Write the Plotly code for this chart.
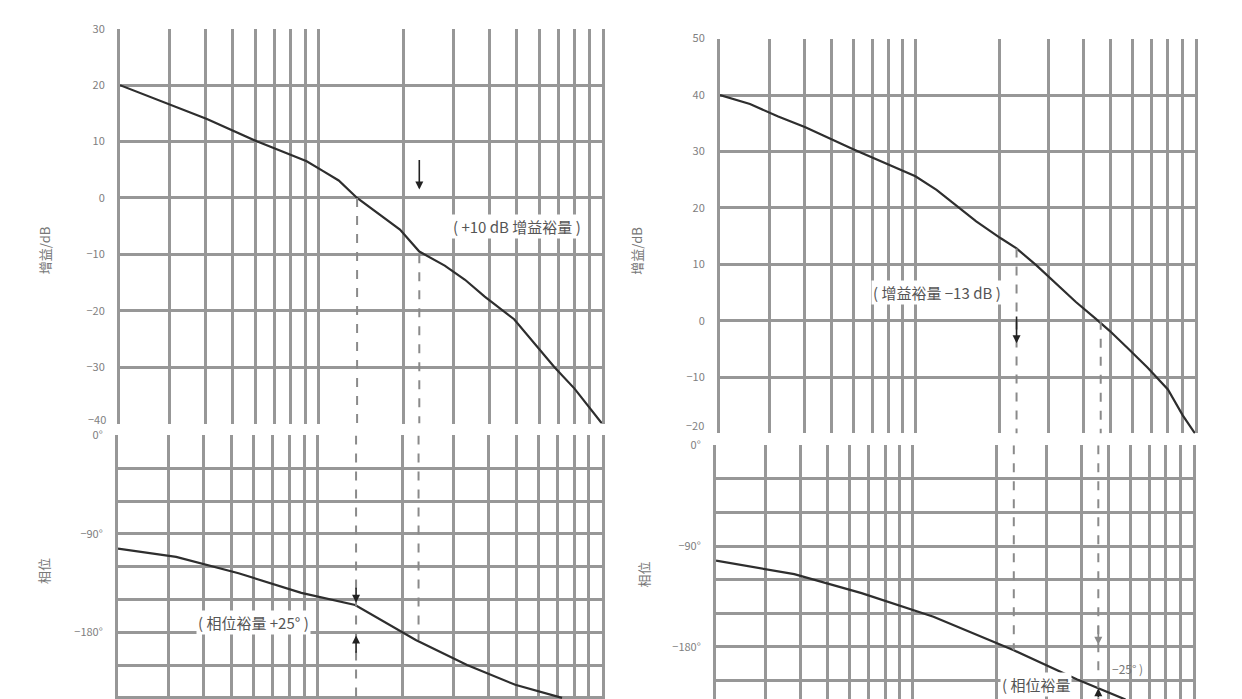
import math
import plotly.graph_objects as go

# ---------------- data ----------------
left_mag_freq = [2, 3.07, 4.05, 6.1, 9.1, 10.3, 11.8, 13.7, 15.8, 19.4, 22.7, 27.9, 32.9, 38.6, 49, 68, 80, 100]
left_mag_db = [20, 16.4, 14.0, 10, 6.5, 4.9, 3.1, 0, -2.3, -5.6, -9.5, -12, -14.5, -17.5, -21.5, -30, -33.8, -40]
left_phase_freq = [2, 3.2, 5.3, 8.8, 13.6, 22.2, 33.6, 49.6, 72.4]
left_phase_deg = [-103.5, -111, -126, -144, -155, -187, -210, -228, -240]

right_mag_freq = [2, 2.56, 3.23, 4.04, 5.99, 7.3, 8.6, 10, 11.9, 14, 16.5, 20.2, 23, 27.1, 32, 37.5, 44,
                  49.5, 57.5, 67.6, 80, 90.4, 100]
right_mag_db = [40, 38.4, 36.2, 34.3, 30.4, 28.6, 27.1, 25.6, 23.2, 20.4, 17.6, 14.6, 12.8, 9.8, 6.4, 3.3, 0.4,
                -1.8, -4.9, -8.3, -12.2, -16.8, -20]
right_phase_freq = [2, 3.8, 6.6, 11.9, 23, 38.7, 57.5]
right_phase_deg = [-103, -115, -132, -153, -183, -209, -227]

# crossover markers
left_gain_cross = 13.7
left_phase_cross = 22.7
right_phase_cross = 23
right_gain_cross = 46

grid_freqs = [2, 3, 4, 5, 6, 7, 8, 9, 10, 20, 30, 40, 50, 60, 70, 80, 90, 100]
left_db_ticks = [30, 20, 10, 0, -10, -20, -30, -40]
left_db_text = ["30", "20", "10", "0", "−10", "−20", "−30", ""]
right_db_ticks = [50, 40, 30, 20, 10, 0, -10, -20]
right_db_text = ["50", "40", "30", "20", "10", "0", "−10", ""]
phase_ticks = [0, -30, -60, -90, -120, -150, -180, -210, -240]
phase_text = ["0°", "", "", "−90°", "", "", "−180°", "", ""]

label_gain = "增益/dB"
label_phase = "相位"
txt_left_gm = "( +10 dB 增益裕量 )"
txt_left_pm = "( 相位裕量 +25° )"
txt_right_gm = "( 增益裕量 −13 dB )"
txt_right_pm = "( 相位裕量"
txt_right_pm_val = "−25° )"

# ---------------- layout geometry ----------------
W, H = 1242, 699
FONT = "Noto Sans CJK SC, Noto Sans, sans-serif"
GRID = "#979797"
CURVE = "#2e2e2e"
TICKC = "#808080"


def xd(a, b):
    return [a / W, b / W]


def yd(top, bottom):
    return [1 - bottom / H, 1 - top / H]


fig = go.Figure()

cw = 2.2
for fx, fy, xa, ya in [(left_mag_freq, left_mag_db, "x", "y"),
                       (left_phase_freq, left_phase_deg, "x2", "y2"),
                       (right_mag_freq, right_mag_db, "x3", "y3"),
                       (right_phase_freq, right_phase_deg, "x4", "y4")]:
    fig.add_trace(go.Scatter(x=fx, y=fy, xaxis=xa, yaxis=ya, mode="lines",
                             line=dict(color=CURVE, width=cw)))

dash = dict(color="#8a8a8a", width=2, dash="dash")
dashed = [
    (left_gain_cross, 0, -40, "x", "y"),
    (left_phase_cross, -10, -40, "x", "y"),
    (left_gain_cross, 0, -241, "x2", "y2"),
    (left_phase_cross, 0, -187, "x2", "y2"),
    (right_phase_cross, 12.8, -20, "x3", "y3"),
    (right_gain_cross, 0, -20, "x3", "y3"),
    (right_phase_cross, 0, -183, "x4", "y4"),
    (right_gain_cross, 0, -229, "x4", "y4"),
]
for f, y0, y1, xa, ya in dashed:
    fig.add_trace(go.Scatter(x=[f, f], y=[y0, y1], xaxis=xa, yaxis=ya, mode="lines", line=dash))

common_x = dict(type="log", tickvals=grid_freqs, showticklabels=False, showgrid=True,
                gridcolor=GRID, gridwidth=2.6, zeroline=False, showline=False, ticks="")
common_y = dict(showgrid=True, gridcolor=GRID, gridwidth=2.6, zeroline=False, ticks="",
                showline=True, mirror=True, linecolor=GRID, linewidth=3,
                tickfont=dict(family=FONT, size=11, color=TICKC), ticklabelstandoff=10)

lr = [math.log10(2), 2]
fig.update_layout(
    xaxis=dict(common_x, domain=xd(120, 602), range=lr, anchor="y"),
    yaxis=dict(common_y, domain=yd(20, 420), range=[-40, 30], tickvals=left_db_ticks,
               ticktext=left_db_text, anchor="x"),
    xaxis2=dict(common_x, domain=xd(118, 602), range=lr, anchor="y2"),
    yaxis2=dict(common_y, domain=yd(432, 699), range=[-241, 0], tickvals=phase_ticks,
                ticktext=phase_text, anchor="x2"),
    xaxis3=dict(common_x, domain=xd(720, 1195), range=lr, anchor="y3"),
    yaxis3=dict(common_y, domain=yd(30, 430), range=[-20, 50], tickvals=right_db_ticks,
                ticktext=right_db_text, anchor="x3"),
    xaxis4=dict(common_x, domain=xd(716, 1193), range=lr, anchor="y4"),
    yaxis4=dict(common_y, domain=yd(442, 699), range=[-226.5, 0], tickvals=phase_ticks,
                ticktext=phase_text, anchor="x4"),
)


def lg(f):
    return math.log10(f)


ann = []
tfont = dict(family=FONT, size=15, color="#555")
ann.append(dict(x=lg(50), y=-5, xref="x", yref="y", text=txt_left_gm, showarrow=False,
                font=tfont, bgcolor="white"))
ann.append(dict(x=lg(6.0), y=-171, xref="x2", yref="y2", text=txt_left_pm, showarrow=False,
                font=tfont, bgcolor="white"))
ann.append(dict(x=lg(11.9), y=5, xref="x3", yref="y3", text=txt_right_gm, showarrow=False,
                font=tfont, bgcolor="white"))
ann.append(dict(x=lg(27.5), y=-214, xref="x4", yref="y4", text=txt_right_pm, showarrow=False,
                font=tfont, bgcolor="white"))
ann.append(dict(x=lg(58.5), y=-199, xref="x4", yref="y4", text=txt_right_pm_val, showarrow=False,
                font=dict(family=FONT, size=12, color="#777")))

# lowest dB labels lifted a little so they do not collide with the 0° labels
ann.append(dict(x=108 / W, y=1 - 415 / H, xref="paper", yref="paper", text="−40", showarrow=False,
                xanchor="right", font=dict(family=FONT, size=11, color=TICKC)))
ann.append(dict(x=706 / W, y=1 - 421 / H, xref="paper", yref="paper", text="−20", showarrow=False,
                xanchor="right", font=dict(family=FONT, size=11, color=TICKC)))

arrow = dict(showarrow=True, arrowhead=2, arrowsize=1, arrowwidth=1.6, arrowcolor="#222", text="")
ann.append(dict(arrow, x=lg(left_phase_cross), y=1.5, ax=lg(left_phase_cross), ay=7,
                xref="x", yref="y", axref="x", ayref="y"))
ann.append(dict(arrow, x=lg(left_gain_cross), y=-153, ax=lg(left_gain_cross), ay=-138,
                xref="x2", yref="y2", axref="x2", ayref="y2"))
ann.append(dict(arrow, x=lg(left_gain_cross), y=-183, ax=lg(left_gain_cross), ay=-200,
                xref="x2", yref="y2", axref="x2", ayref="y2"))
ann.append(dict(arrow, x=lg(right_phase_cross), y=-4, ax=lg(right_phase_cross), ay=1,
                xref="x3", yref="y3", axref="x3", ayref="y3"))
ann.append(dict(arrow, x=lg(right_gain_cross), y=-178, ax=lg(right_gain_cross), ay=-160,
                xref="x4", yref="y4", axref="x4", ayref="y4", arrowcolor="#888"))
ann.append(dict(arrow, x=lg(right_gain_cross), y=-217, ax=lg(right_gain_cross), ay=-226,
                xref="x4", yref="y4", axref="x4", ayref="y4"))

title_font = dict(family=FONT, size=13, color="#777")
for (px, py, t) in [(33, 245, label_gain), (32, 585, label_phase),
                    (637, 245, label_gain), (643, 588, label_phase)]:
    ann.append(dict(x=px / W, y=1 - py / H, xref="paper", yref="paper", text=t,
                    textangle=-90, showarrow=False, font=title_font))

fig.update_layout(
    annotations=ann,
    width=W, height=H,
    margin=dict(l=0, r=0, t=0, b=0),
    paper_bgcolor="white", plot_bgcolor="white",
    showlegend=False,
    font=dict(family=FONT),
)

fig.write_html("out.html", config={"displayModeBar": False},
               post_script="document.body.style.margin='0';")
